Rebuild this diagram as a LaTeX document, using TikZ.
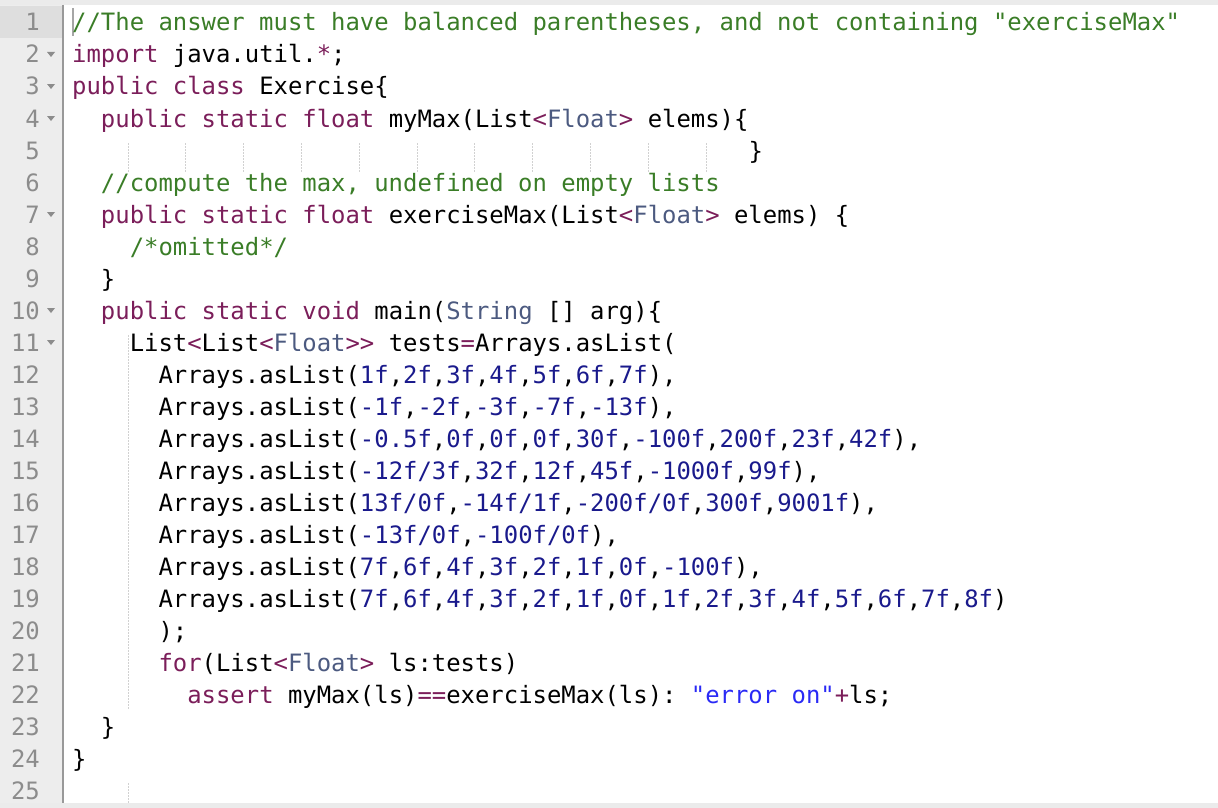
\documentclass[tikz,border=0pt]{standalone}
\usepackage{fontspec}
\setmonofont{DejaVu Sans Mono}
\usepackage{xcolor}
\definecolor{kw}{HTML}{7B1E5A}
\definecolor{cm}{HTML}{3A7D27}
\definecolor{nu}{HTML}{1A1A8C}
\definecolor{ty}{HTML}{4C5A80}
\definecolor{st}{HTML}{2A2AF5}
\newcommand{\Kw}[1]{\textcolor{kw}{#1}}
\newcommand{\Cm}[1]{\textcolor{cm}{#1}}
\newcommand{\Nu}[1]{\textcolor{nu}{#1}}
\newcommand{\Ty}[1]{\textcolor{ty}{#1}}
\newcommand{\St}[1]{\textcolor{st}{#1}}
\begin{document}
\begin{tikzpicture}[x=1pt,y=-1pt,
  code/.style={anchor=base west,inner sep=0pt,font=\fontsize{23.9}{26}\ttfamily},
  lnum/.style={anchor=base east,inner sep=0pt,font=\fontsize{23.9}{26}\ttfamily,text=black!45},
  guide/.style={draw=black!18,dash pattern=on 1.5pt off 1.5pt,line width=1pt},
  fold/.style={fill=black!45,draw=none}]
\useasboundingbox (0,0) rectangle (1218,808);
\fill[black!8] (0,0) rectangle (1218,5);
\fill[black!8] (0,803) rectangle (1218,808);
\fill[black!7] (0,5) rectangle (62,803);
\fill[black!13] (0,6) rectangle (62,38);
\draw[black!40,line width=2pt] (63,5) -- (63,803);
\draw[black!35,line width=1.5pt] (73,8) -- (73,36);
\def\bl{31}
% line numbers
\foreach \i in {1,...,25}{
  \node[lnum] (n\i) at (40,{\bl+32*(\i-1)}) {\i};
}
\foreach \i in {2,3,4,7,10,11}{
  \fill[fold] (47,{20+32*(\i-1)}) -- (55,{20+32*(\i-1)}) -- (51,{25+32*(\i-1)}) -- cycle;
}
% indent guides
\foreach \x in {128,185.8,243.6,301.4,359.2,417,474.8,532.6,590.4,648.2,706}{
  \draw[guide] (\x,143) -- (\x,173);
}
\draw[guide] (128,335) -- (128,710);
\draw[guide] (128,783) -- (128,803);
\def\cw{14.39}
\node[code] (l1) at (72,\bl) {\Cm{//The answer must have balanced parentheses, and not containing "exerciseMax"}};
\node[code] (l2) at (72,\bl+32) {\Kw{import} java.util.\Kw{*};};
\node[code] (l3) at (72,\bl+64) {\Kw{public class} Exercise\{};
\node[code] (l4) at ({72+2*\cw},\bl+96) {\Kw{public static float} myMax(List\Kw{<}\Ty{Float}\Kw{>} elems)\{};
\node[code] (l5) at ({72+47*\cw},\bl+128) {\}};
\node[code] (l6) at ({72+2*\cw},\bl+160) {\Cm{//compute the max, undefined on empty lists}};
\node[code] (l7) at ({72+2*\cw},\bl+192) {\Kw{public static float} exerciseMax(List\Kw{<}\Ty{Float}\Kw{>} elems) \{};
\node[code] (l8) at ({72+4*\cw},\bl+224) {\Cm{/*omitted*/}};
\node[code] (l9) at ({72+2*\cw},\bl+256) {\}};
\node[code] (l10) at ({72+2*\cw},\bl+288) {\Kw{public static void} main(\Ty{String} [] arg)\{};
\node[code] (l11) at ({72+4*\cw},\bl+320) {List\Kw{<}List\Kw{<}\Ty{Float}\Kw{>>} tests\Kw{=}Arrays.asList(};
\node[code] (l12) at ({72+6*\cw},\bl+352) {Arrays.asList(\Nu{1f},\Nu{2f},\Nu{3f},\Nu{4f},\Nu{5f},\Nu{6f},\Nu{7f}),};
\node[code] (l13) at ({72+6*\cw},\bl+384) {Arrays.asList(\Nu{-1f},\Nu{-2f},\Nu{-3f},\Nu{-7f},\Nu{-13f}),};
\node[code] (l14) at ({72+6*\cw},\bl+416) {Arrays.asList(\Nu{-0.5f},\Nu{0f},\Nu{0f},\Nu{0f},\Nu{30f},\Nu{-100f},\Nu{200f},\Nu{23f},\Nu{42f}),};
\node[code] (l15) at ({72+6*\cw},\bl+448) {Arrays.asList(\Nu{-12f/3f},\Nu{32f},\Nu{12f},\Nu{45f},\Nu{-1000f},\Nu{99f}),};
\node[code] (l16) at ({72+6*\cw},\bl+480) {Arrays.asList(\Nu{13f/0f},\Nu{-14f/1f},\Nu{-200f/0f},\Nu{300f},\Nu{9001f}),};
\node[code] (l17) at ({72+6*\cw},\bl+512) {Arrays.asList(\Nu{-13f/0f},\Nu{-100f/0f}),};
\node[code] (l18) at ({72+6*\cw},\bl+544) {Arrays.asList(\Nu{7f},\Nu{6f},\Nu{4f},\Nu{3f},\Nu{2f},\Nu{1f},\Nu{0f},\Nu{-100f}),};
\node[code] (l19) at ({72+6*\cw},\bl+576) {Arrays.asList(\Nu{7f},\Nu{6f},\Nu{4f},\Nu{3f},\Nu{2f},\Nu{1f},\Nu{0f},\Nu{1f},\Nu{2f},\Nu{3f},\Nu{4f},\Nu{5f},\Nu{6f},\Nu{7f},\Nu{8f})};
\node[code] (l20) at ({72+6*\cw},\bl+608) {);};
\node[code] (l21) at ({72+6*\cw},\bl+640) {\Kw{for}(List\Kw{<}\Ty{Float}\Kw{>} ls:tests)};
\node[code] (l22) at ({72+8*\cw},\bl+672) {\Kw{assert} myMax(ls)\Kw{==}exerciseMax(ls): \St{"error on"}\Kw{+}ls;};
\node[code] (l23) at ({72+2*\cw},\bl+704) {\}};
\node[code] (l24) at (72,\bl+736) {\}};
\end{tikzpicture}
\end{document}
